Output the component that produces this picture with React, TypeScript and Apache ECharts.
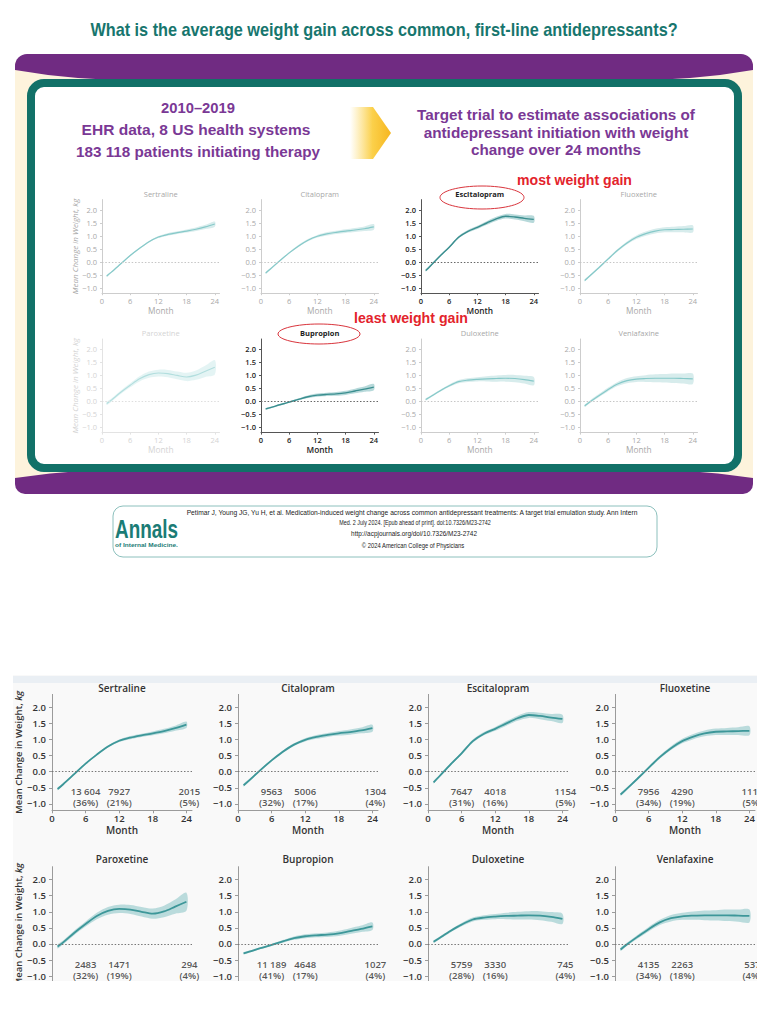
import React, { useEffect, useRef } from 'react';
import * as echarts from 'echarts';

// Months at which the adjusted mean change is plotted
const MONTHS = [1, 2, 4, 6, 8, 10, 12, 14, 16, 18, 20, 22, 24];
const X_TICKS = [0, 6, 12, 18, 24];
const Y_TICKS = [-1, -0.5, 0, 0.5, 1, 1.5, 2];
const AT_RISK_MONTHS = [6, 12, 24];
const COUNT_LABEL_Y = -0.8;

const DRUG_NAMES = [
  'Sertraline', 'Citalopram', 'Escitalopram', 'Fluoxetine',
  'Paroxetine', 'Bupropion', 'Duloxetine', 'Venlafaxine',
];

// Mean change in weight (kg) by month
const sertraline = [-0.54, -0.39, -0.07, 0.25, 0.53, 0.78, 0.96, 1.06, 1.13, 1.19, 1.26, 1.35, 1.46];
const citalopram = [-0.42, -0.27, 0.05, 0.35, 0.62, 0.84, 0.99, 1.08, 1.14, 1.19, 1.23, 1.28, 1.35];
const escitalopram = [-0.33, -0.15, 0.22, 0.57, 0.95, 1.18, 1.33, 1.5, 1.66, 1.76, 1.73, 1.68, 1.64];
const fluoxetine = [-0.71, -0.55, -0.22, 0.12, 0.45, 0.73, 0.95, 1.09, 1.19, 1.24, 1.25, 1.26, 1.27];
const paroxetine = [-0.08, 0.05, 0.35, 0.62, 0.87, 1.03, 1.09, 1.07, 1.0, 0.94, 1.01, 1.16, 1.31];
const bupropion = [-0.29, -0.24, -0.13, -0.03, 0.08, 0.18, 0.24, 0.27, 0.29, 0.33, 0.4, 0.47, 0.55];
const duloxetine = [0.07, 0.18, 0.4, 0.6, 0.76, 0.82, 0.85, 0.87, 0.88, 0.89, 0.88, 0.84, 0.78];
const venlafaxine = [-0.17, -0.03, 0.22, 0.46, 0.67, 0.8, 0.86, 0.88, 0.89, 0.89, 0.89, 0.88, 0.87];

// Half-width of the 95% confidence band (kg) by month
const sertralineCI = [0.04, 0.03, 0.03, 0.03, 0.03, 0.03, 0.04, 0.05, 0.05, 0.06, 0.07, 0.08, 0.1];
const citalopramCI = [0.04, 0.04, 0.03, 0.03, 0.04, 0.04, 0.05, 0.06, 0.06, 0.07, 0.08, 0.09, 0.11];
const escitalopramCI = [0.04, 0.04, 0.04, 0.04, 0.05, 0.05, 0.06, 0.07, 0.08, 0.09, 0.1, 0.11, 0.13];
const fluoxetineCI = [0.04, 0.04, 0.04, 0.04, 0.05, 0.06, 0.07, 0.08, 0.09, 0.1, 0.11, 0.12, 0.14];
const paroxetineCI = [0.06, 0.06, 0.07, 0.08, 0.1, 0.12, 0.13, 0.14, 0.15, 0.16, 0.18, 0.22, 0.28];
const bupropionCI = [0.03, 0.03, 0.03, 0.03, 0.04, 0.05, 0.06, 0.06, 0.07, 0.08, 0.09, 0.1, 0.12];
const duloxetineCI = [0.04, 0.04, 0.04, 0.05, 0.06, 0.07, 0.08, 0.1, 0.12, 0.13, 0.14, 0.15, 0.16];
const venlafaxineCI = [0.05, 0.05, 0.06, 0.07, 0.08, 0.1, 0.11, 0.13, 0.15, 0.16, 0.18, 0.19, 0.2];

// Patients still followed at 6, 12 and 24 months
const sertralineN = ['13 604', '7927', '2015'];
const citalopramN = ['9563', '5006', '1304'];
const escitalopramN = ['7647', '4018', '1154'];
const fluoxetineN = ['7956', '4290', '1115'];
const paroxetineN = ['2483', '1471', '294'];
const bupropionN = ['11 189', '4648', '1027'];
const duloxetineN = ['5759', '3330', '745'];
const venlafaxineN = ['4135', '2263', '537'];

const sertralinePct = [36, 21, 5];
const citalopramPct = [32, 17, 4];
const escitalopramPct = [31, 16, 5];
const fluoxetinePct = [34, 19, 5];
const paroxetinePct = [32, 19, 4];
const bupropionPct = [41, 17, 4];
const duloxetinePct = [28, 16, 4];
const venlafaxinePct = [34, 18, 4];

const MEANS = [sertraline, citalopram, escitalopram, fluoxetine, paroxetine, bupropion, duloxetine, venlafaxine];
const HALF_WIDTHS = [sertralineCI, citalopramCI, escitalopramCI, fluoxetineCI, paroxetineCI, bupropionCI, duloxetineCI, venlafaxineCI];
const COUNTS = [sertralineN, citalopramN, escitalopramN, fluoxetineN, paroxetineN, bupropionN, duloxetineN, venlafaxineN];
const PCTS = [sertralinePct, citalopramPct, escitalopramPct, fluoxetinePct, paroxetinePct, bupropionPct, duloxetinePct, venlafaxinePct];

// Emphasis of each small panel inside the summary frame
const SUMMARY_TONES = ['faded', 'faded', 'dark', 'faded', 'ghost', 'dark', 'faded', 'faded'];

const SANS = '"Open Sans", "Noto Sans", sans-serif';
const HEAD = '"Liberation Sans Narrow", "Liberation Sans", Arial, sans-serif';
const ARIAL = '"Liberation Sans", Arial, sans-serif';

const PURPLE = '#702b82';
const TEAL = '#127168';
const CREAM = '#fdf3dc';
const HEAD_PURPLE = '#7a3895';
const RED = '#e3232c';

type Tone = {
  text: string; axis: string; line: string; band: string; zero: string;
  bold: boolean; lineWidth: number;
};

const TONES: Record<string, Tone> = {
  faded: { text: '#a8a8a8', axis: '#cdcdcd', line: '#86c9c9', band: 'rgba(150,206,206,0.38)', zero: '#c6c6c6', bold: false, lineWidth: 1.2 },
  ghost: { text: '#d4d4d4', axis: '#e3e3e3', line: '#b2dede', band: 'rgba(170,220,220,0.32)', zero: '#dedede', bold: false, lineWidth: 1.1 },
  dark: { text: '#1d1d1d', axis: '#555555', line: '#3a8e8f', band: 'rgba(95,170,172,0.45)', zero: '#666666', bold: true, lineWidth: 1.4 },
  full: { text: '#333333', axis: '#9b9b9b', line: '#3d9799', band: 'rgba(100,178,180,0.42)', zero: '#777777', bold: true, lineWidth: 1.8 },
};

let measureCtx: CanvasRenderingContext2D | null = null;
function textWidth(text: string, weight: string | number, size: number, family: string) {
  if (!measureCtx) measureCtx = document.createElement('canvas').getContext('2d');
  if (!measureCtx) return 1;
  measureCtx.font = `${weight} ${size}px ${family}`;
  return measureCtx.measureText(text).width || 1;
}

// Text squeezed horizontally to occupy a given width
function fittedText(
  text: string, x: number, y: number, width: number, size: number,
  weight: string | number, fill: string, family: string, align = 'center',
) {
  const w = textWidth(text, weight, size, family);
  return {
    type: 'text', x, y, scaleX: width / w, z: 20, silent: true,
    style: { text, fill, fontSize: size, fontWeight: weight, fontFamily: family, align, verticalAlign: 'middle' },
  };
}

const fmtY = (v: number) => (v < 0 ? '\u2212' : '') + Math.abs(v).toFixed(1);

interface PanelSpec {
  left: number; top: number; width: number; height: number;
  tone: Tone; drug: number;
  tickSize: number; nameSize: number; tickLen: number;
  showX: boolean; xMargin: number; xNameGap: number; yMargin: number;
  yName?: string; yNameGap?: number; yNameStyle?: any;
  withCounts?: boolean; countSize?: number;
}

function buildOption() {
  const grid: any[] = [];
  const xAxis: any[] = [];
  const yAxis: any[] = [];
  const series: any[] = [];
  const graphic: any[] = [];

  const addPanel = (p: PanelSpec) => {
    const i = grid.length;
    const t = p.tone;
    const mean = MEANS[p.drug];
    const half = HALF_WIDTHS[p.drug];
    const weight = t.bold ? 600 : 400;
    grid.push({ left: p.left, top: p.top, width: p.width, height: p.height, show: false, containLabel: false, outerBoundsMode: 'none' });
    xAxis.push({
      type: 'value', gridIndex: i, min: 0, max: 25,
      axisLine: { show: p.showX, onZero: false, lineStyle: { color: t.axis, width: 1 } },
      axisTick: { show: p.showX, customValues: X_TICKS, length: p.tickLen, lineStyle: { color: t.axis } },
      axisLabel: { show: p.showX, customValues: X_TICKS, margin: p.xMargin, fontSize: p.tickSize, fontFamily: SANS, fontWeight: weight, color: t.text },
      splitLine: { show: false },
      name: p.showX ? 'Month' : '', nameLocation: 'middle', nameGap: p.xNameGap,
      nameTextStyle: { fontSize: p.nameSize, fontFamily: SANS, fontWeight: weight, color: t.text },
    });
    yAxis.push({
      type: 'value', gridIndex: i, min: -1.2, max: 2.4,
      axisLine: { show: true, onZero: false, lineStyle: { color: t.axis, width: 1 } },
      axisTick: { show: true, customValues: Y_TICKS, length: p.tickLen, lineStyle: { color: t.axis } },
      axisLabel: { customValues: Y_TICKS, formatter: fmtY, margin: p.yMargin, fontSize: p.tickSize, fontFamily: SANS, fontWeight: weight, color: t.text },
      splitLine: { show: false },
      name: p.yName || '', nameLocation: 'middle', nameGap: p.yNameGap || 0,
      nameTextStyle: p.yNameStyle || {},
    });
    // confidence band
    series.push({
      type: 'custom', xAxisIndex: i, yAxisIndex: i, silent: true, z: 1,
      data: [[0, 0]],
      renderItem: (params: any, api: any) => {
        if (params.dataIndex !== 0) return null;
        const pts: number[][] = [];
        MONTHS.forEach((m, k) => pts.push(api.coord([m, mean[k] + half[k]])));
        for (let k = MONTHS.length - 1; k >= 0; k--) pts.push(api.coord([MONTHS[k], mean[k] - half[k]]));
        return { type: 'polygon', shape: { points: pts, smooth: 0.3 }, style: { fill: t.band } };
      },
    });
    // mean curve with the zero reference line
    series.push({
      type: 'line', xAxisIndex: i, yAxisIndex: i, silent: true, z: 3,
      data: MONTHS.map((m, k) => [m, mean[k]]),
      smooth: 0.3, showSymbol: false, symbol: 'none',
      lineStyle: { color: t.line, width: t.lineWidth },
      markLine: {
        silent: true, symbol: ['none', 'none'], label: { show: false },
        lineStyle: { type: [1.5, 1.8], color: t.zero, width: 1 },
        data: [{ yAxis: 0 }],
      },
    });
    if (p.withCounts) {
      const n = COUNTS[p.drug];
      const pct = PCTS[p.drug];
      series.push({
        type: 'scatter', xAxisIndex: i, yAxisIndex: i, silent: true, z: 4,
        symbolSize: 0, itemStyle: { color: 'transparent' },
        data: AT_RISK_MONTHS.map((m, k) => ({ value: [m, COUNT_LABEL_Y], label: { offset: k === 2 ? [3, 0] : [0, 0] } })),
        label: {
          show: true, position: 'inside',
          formatter: (q: any) => `${n[q.dataIndex]}\n(${pct[q.dataIndex]}%)`,
          fontSize: p.countSize, lineHeight: 11, color: '#2b2b2b', fontFamily: SANS, fontWeight: 600,
        },
      });
    }
  };

  // ---------- summary frame ----------
  graphic.push(fittedText('What is the average weight gain across common, first-line antidepressants?', 384, 30, 588, 18, 'bold', '#17766e', HEAD));
  graphic.push({ type: 'rect', z: -20, silent: true, shape: { x: 15, y: 62, width: 738, height: 424 }, style: { fill: CREAM } });
  graphic.push({ type: 'rect', z: -19, silent: true, shape: { x: 15, y: 54, width: 738, height: 16, r: [12, 12, 0, 0] }, style: { fill: PURPLE } });
  graphic.push({
    type: 'polygon', z: -19, silent: true,
    shape: { points: [[15, 69], [753, 69], [753, 70], [720, 75], [690, 78], [655, 80], [113, 80], [78, 78], [48, 75], [15, 70]] },
    style: { fill: PURPLE },
  });
  graphic.push({ type: 'rect', z: -19, silent: true, shape: { x: 15, y: 471, width: 738, height: 23, r: [0, 0, 10, 10] }, style: { fill: PURPLE } });
  graphic.push({ type: 'polygon', z: -18, silent: true, shape: { points: [[15, 469], [80, 469], [80, 471], [50, 473.5], [15, 478]] }, style: { fill: CREAM } });
  graphic.push({ type: 'polygon', z: -18, silent: true, shape: { points: [[753, 469], [688, 469], [688, 471], [718, 473.5], [753, 478]] }, style: { fill: CREAM } });
  graphic.push({ type: 'rect', z: -17, silent: true, shape: { x: 31, y: 83, width: 707, height: 385, r: 13 }, style: { fill: '#ffffff', stroke: TEAL, lineWidth: 8 } });

  graphic.push(fittedText('2010\u20132019', 198, 108, 74, 14, 'bold', HEAD_PURPLE, HEAD));
  graphic.push(fittedText('EHR data, 8 US health systems', 196, 130, 229, 14, 'bold', HEAD_PURPLE, HEAD));
  graphic.push(fittedText('183 118 patients initiating therapy', 198, 152, 244, 14, 'bold', HEAD_PURPLE, HEAD));
  graphic.push(fittedText('Target trial to estimate associations of', 556, 115, 278, 14, 'bold', HEAD_PURPLE, HEAD));
  graphic.push(fittedText('antidepressant initiation with weight', 556, 133, 265, 14, 'bold', HEAD_PURPLE, HEAD));
  graphic.push(fittedText('change over 24 months', 556, 150, 170, 14, 'bold', HEAD_PURPLE, HEAD));
  graphic.push({
    type: 'polygon', z: 5, silent: true,
    shape: { points: [[350, 107], [373, 107], [391, 133], [373, 159], [350, 159]] },
    style: {
      fill: new echarts.graphic.LinearGradient(0, 0, 1, 0, [
        { offset: 0, color: 'rgba(252,214,90,0)' },
        { offset: 0.55, color: '#fbd04a' },
        { offset: 1, color: '#f6b61f' },
      ]),
    },
  });

  graphic.push(fittedText('most weight gain', 574.5, 180, 115, 14, 'bold', RED, ARIAL));
  graphic.push(fittedText('least weight gain', 411, 318, 114, 14, 'bold', RED, ARIAL));
  graphic.push({ type: 'ellipse', z: 21, silent: true, shape: { cx: 482, cy: 197.5, rx: 42, ry: 11.5 }, style: { fill: 'none', stroke: '#d9343c', lineWidth: 1 } });
  graphic.push({ type: 'ellipse', z: 21, silent: true, shape: { cx: 319, cy: 334, rx: 41, ry: 10 }, style: { fill: 'none', stroke: '#d9343c', lineWidth: 1 } });

  const SUM_LEFTS = [102, 261, 421, 580];
  const SUM_TOPS = [199.6, 339];
  const SUM_TITLE_Y = [194, 333];
  const SUM_W = 117.5;
  const SUM_H = 93.6;
  DRUG_NAMES.forEach((name, d) => {
    const col = d % 4;
    const row = Math.floor(d / 4);
    const tone = TONES[SUMMARY_TONES[d]];
    addPanel({
      left: SUM_LEFTS[col], top: SUM_TOPS[row], width: SUM_W, height: SUM_H, tone, drug: d,
      tickSize: 7.5, nameSize: 8.3, tickLen: 2,
      showX: true, xMargin: 3.5, xNameGap: 13, yMargin: 5,
      yName: col === 0 ? 'Mean Change in Weight, kg' : '', yNameGap: 23,
      yNameStyle: { fontSize: 8, fontStyle: 'italic', fontFamily: SANS, color: tone.text },
    });
    graphic.push({
      type: 'text', x: SUM_LEFTS[col] + SUM_W / 2, y: SUM_TITLE_Y[row], z: 20, silent: true,
      style: { text: name, fill: tone.text, fontSize: 7.5, fontWeight: tone.bold ? 700 : 400, fontFamily: SANS, align: 'center', verticalAlign: 'middle' },
    });
  });

  // ---------- citation ----------
  graphic.push({ type: 'rect', z: 5, silent: true, shape: { x: 113, y: 506, width: 544, height: 51, r: 10 }, style: { fill: 'none', stroke: '#8cc0bd', lineWidth: 1 } });
  graphic.push(fittedText('Annals', 115, 529, 63, 26, 'bold', '#1b7c76', ARIAL, 'left'));
  graphic.push(fittedText('of Internal Medicine.', 115, 545, 63, 6, 'bold', '#1b7c76', ARIAL, 'left'));
  graphic.push(fittedText('Petimar J, Young JG, Yu H, et al. Medication-induced weight change across common antidepressant treatments: A target trial emulation study. Ann Intern', 412, 513, 453, 6.5, 'normal', '#222', ARIAL));
  graphic.push(fittedText('Med. 2 July 2024. [Epub ahead of print]. doi:10.7326/M23-2742', 415, 523, 152, 6.5, 'normal', '#222', ARIAL));
  graphic.push(fittedText('http://acpjournals.org/doi/10.7326/M23-2742', 414, 533, 126, 6.5, 'normal', '#222', ARIAL));
  graphic.push(fittedText('\u00a9 2024 American College of Physicians', 413, 545, 103, 6.5, 'normal', '#222', ARIAL));

  // ---------- detailed panels ----------
  graphic.push({ type: 'rect', z: -20, silent: true, shape: { x: 13, y: 675, width: 744, height: 306 }, style: { fill: '#f9f9f9' } });
  graphic.push({ type: 'rect', z: -19, silent: true, shape: { x: 13, y: 676, width: 744, height: 7 }, style: { fill: '#eaeff4' } });

  const DET_LEFTS = [52, 238, 428, 615];
  const DET_TOPS = [694.4, 866.7];
  const DET_TITLE_Y = [688, 859];
  const DET_W = 140;
  const DET_H = 115.9;
  DRUG_NAMES.forEach((name, d) => {
    const col = d % 4;
    const row = Math.floor(d / 4);
    addPanel({
      left: DET_LEFTS[col], top: DET_TOPS[row], width: DET_W, height: DET_H, tone: TONES.full, drug: d,
      tickSize: 9.5, nameSize: 10, tickLen: 3,
      showX: row === 0, xMargin: 3, xNameGap: 15, yMargin: 6,
      yName: col === 0 ? '{a|Mean Change in Weight, }{b|kg}' : '', yNameGap: 25,
      yNameStyle: {
        fontSize: 9.5, fontFamily: SANS, fontWeight: 600, color: '#333',
        rich: {
          a: { fontSize: 9.5, fontFamily: SANS, fontWeight: 600, color: '#333' },
          b: { fontSize: 9.5, fontFamily: SANS, fontWeight: 600, fontStyle: 'italic', color: '#333' },
        },
      },
      withCounts: true, countSize: 9.5,
    });
    graphic.push({
      type: 'text', x: DET_LEFTS[col] + DET_W / 2, y: DET_TITLE_Y[row], z: 20, silent: true,
      style: { text: name, fill: '#333', fontSize: 10, fontWeight: 600, fontFamily: SANS, align: 'center', verticalAlign: 'middle' },
    });
  });

  // page edges around the detailed panels
  graphic.push({ type: 'rect', z: 100, silent: true, shape: { x: 0, y: 670, width: 13, height: 354 }, style: { fill: '#ffffff' } });
  graphic.push({ type: 'rect', z: 100, silent: true, shape: { x: 757, y: 670, width: 11, height: 354 }, style: { fill: '#ffffff' } });
  graphic.push({ type: 'rect', z: 100, silent: true, shape: { x: 0, y: 981, width: 768, height: 43 }, style: { fill: '#ffffff' } });

  return {
    animation: false,
    backgroundColor: '#ffffff',
    grid, xAxis, yAxis, series, graphic,
  };
}

export default function App() {
  const ref = useRef<HTMLDivElement>(null);
  useEffect(() => {
    if (!ref.current) return;
    const chart = echarts.init(ref.current, null, { renderer: 'svg' });
    chart.setOption(buildOption() as any);
    return () => chart.dispose();
  }, []);
  return <div ref={ref} style={{ position: 'absolute', left: 0, top: 0, width: 768, height: 1024 }} />;
}
